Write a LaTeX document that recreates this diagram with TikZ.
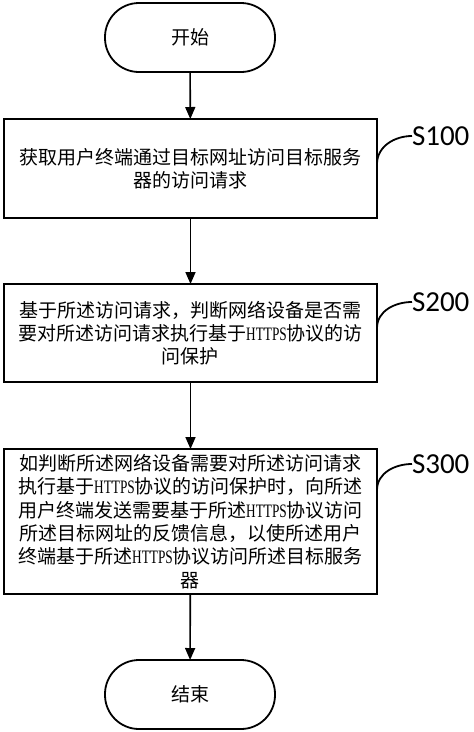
\documentclass[tikz,border=0pt]{standalone}
\usepackage{fontspec}
\usepackage{graphicx}
\setmainfont{Carlito}
\newfontfamily\cjk{Noto Sans CJK SC}
\newfontfamily\lat{Liberation Serif}
\newcommand{\httpsw}{\scalebox{0.7}[1]{\lat HTTPS}}
\usetikzlibrary{arrows.meta}
\begin{document}
\begin{tikzpicture}[x=1pt,y=-1pt,
  every node/.style={inner sep=0pt,outer sep=0pt},
  term/.style={draw,line width=1.8pt,rounded corners=34pt,minimum width=170pt,minimum height=69pt,font=\cjk\fontsize{19}{23}\selectfont},
  stepbox/.style={draw,line width=1.8pt,minimum width=373pt,align=center,font=\cjk\fontsize{19}{23.3}\selectfont},
  arr/.style={line width=1.6pt,-{Triangle[length=12pt,width=10pt]}},
  lbl/.style={anchor=west,font=\fontsize{29}{30}\selectfont},
  lblline/.style={line width=1.8pt}]
\useasboundingbox (0,0) rectangle (474,732);
\node[term] (start) at (190,37.5) {开始};
\node[stepbox,minimum height=99pt] (s1) at (190.5,168.5) {获取用户终端通过目标网址访问目标服务\\器的访问请求};
\node[stepbox,minimum height=98pt] (s2) at (190.5,333) {基于所述访问请求，判断网络设备是否需\\要对所述访问请求执行基于\httpsw 协议的访\\问保护};
\node[stepbox,minimum height=145pt] (s3) at (190.5,521.5) {如判断所述网络设备需要对所述访问请求\\执行基于\httpsw 协议的访问保护时，向所述\\用户终端发送需要基于所述\httpsw 协议访问\\所述目标网址的反馈信息，以使所述用户\\终端基于所述\httpsw 协议访问所述目标服务\\器};
\node[term] (end) at (190,694.5) {结束};
\draw[arr] (start) -- (s1);
\draw[arr] (s1) -- (s2);
\draw[arr] (s2) -- (s3);
\draw[arr] (s3) -- (end);
\node[lbl] (l1) at (412,136) {S100};
\node[lbl] (l2) at (412,302) {S200};
\node[lbl] (l3) at (412,464) {S300};
\coordinate (c1) at (377,164);
\coordinate (c2) at (377,328);
\coordinate (c3) at (377,490);
\draw[lblline] (c1) to[out=90,in=180] (l1.west);
\draw[lblline] (c2) to[out=90,in=180] (l2.west);
\draw[lblline] (c3) to[out=90,in=180] (l3.west);
\end{tikzpicture}
\end{document}
